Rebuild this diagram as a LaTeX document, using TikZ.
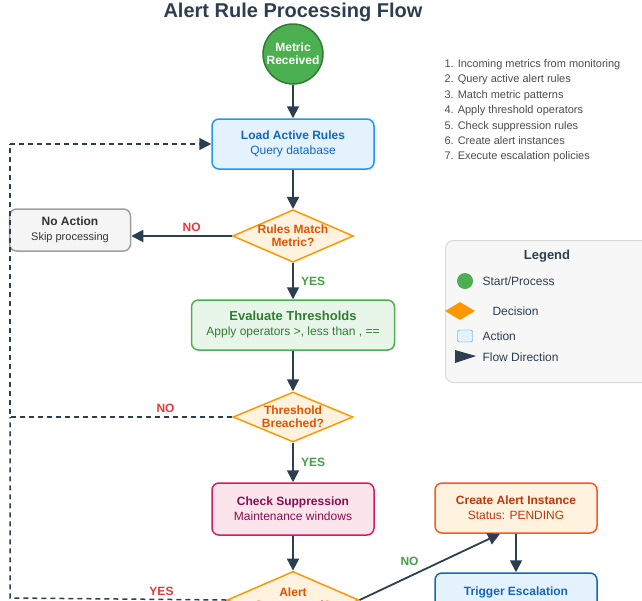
\documentclass[tikz,border=0pt]{standalone}
\usepackage{fontspec}
\setmainfont{Liberation Sans}
\usetikzlibrary{arrows.meta,shapes.geometric}
\definecolor{ink}{HTML}{2C3E50}
\definecolor{bluef}{HTML}{E3F2FD}\definecolor{blued}{HTML}{2196F3}\definecolor{bluet}{HTML}{1565C0}
\definecolor{orf}{HTML}{FFF3E0}\definecolor{ord}{HTML}{FF9800}\definecolor{ort}{HTML}{E65100}
\definecolor{grf}{HTML}{E8F5E9}\definecolor{grd}{HTML}{4CAF50}\definecolor{grt}{HTML}{2E7D32}
\definecolor{pkf}{HTML}{FCE4EC}\definecolor{pkd}{HTML}{D81B60}\definecolor{pkt}{HTML}{880E4F}
\definecolor{rdd}{HTML}{FF5722}\definecolor{rdt}{HTML}{BF360C}
\definecolor{gyf}{HTML}{F5F5F5}\definecolor{gyd}{HTML}{9E9E9E}
\definecolor{nored}{HTML}{E53935}\definecolor{yesgr}{HTML}{43A047}
\begin{document}
\begin{tikzpicture}[x=1pt,y=-1pt,
  box/.style={rounded corners=7pt,line width=1.5pt,minimum width=162pt,minimum height=50pt,align=center,font=\fontsize{12}{15}\selectfont},
  dec/.style={diamond,aspect=2.3,line width=1.5pt,draw=ord,fill=orf,text=ort,font=\bfseries\fontsize{12}{13}\selectfont,align=center,inner sep=0pt,minimum width=120pt,minimum height=50pt},
  flow/.style={draw=ink,line width=1.8pt,-{Triangle[length=12pt,width=12pt]}},
  back/.style={draw=ink,line width=1.5pt,dashed,dash pattern=on 5pt off 4pt},
  lab/.style={font=\bfseries\fontsize{12}{14}\selectfont}]
\useasboundingbox (0,0) rectangle (642,600);
\clip (0,0) rectangle (642,600);
\node[font=\bfseries\fontsize{20}{24}\selectfont,text=ink] (title) at (293,12) {Alert Rule Processing Flow};
\node[circle,fill=grd,draw=grt,line width=1.5pt,minimum size=60pt,inner sep=0pt,text=white,align=center,font=\bfseries\fontsize{12}{13}\selectfont] (start) at (293,54) {Metric\\Received};
\node[box,draw=blued,fill=bluef,text=bluet] (load) at (293,144) {\textbf{Load Active Rules}\\Query database};
\node[dec] (match) at (293,236) {Rules Match\\Metric?};
\node[box,draw=gyd,fill=gyf,text=black!80,minimum width=121pt,minimum height=42pt] (noact) at (70,230) {\textbf{No Action}\\\fontsize{11}{13}\selectfont Skip processing};
\node[box,draw=grd,fill=grf,text=grt,minimum width=203pt] (eval) at (293,325) {\textbf{\fontsize{13}{15}\selectfont Evaluate Thresholds}\\Apply operators >, less than , ==};
\node[dec] (breach) at (293,417) {Threshold\\Breached?};
\node[box,draw=pkd,fill=pkf,text=pkt,minimum height=52pt] (supp) at (293,509) {\textbf{Check Suppression}\\Maintenance windows};
\node[dec] (supq) at (293,600) {Alert\\Suppressed?};
\node[box,draw=rdd,fill=orf,text=rdt] (create) at (516,508) {\textbf{Create Alert Instance}\\Status: PENDING};
\node[box,draw=blued!70!black,fill=bluef,text=bluet,text depth=14pt] (trig) at (516,598) {\textbf{Trigger Escalation}};
\coordinate (cin) at ([xshift=-16pt]create.south);
\draw[flow] (start) -- (load);
\draw[flow] (load) -- (match);
\draw[flow] (match.west) -- node[lab,text=nored,above,pos=0.4]{NO} (match.west -| noact.east);
\draw[flow] (match) -- node[lab,text=yesgr,right,xshift=4pt]{YES} (eval);
\draw[flow] (eval) -- (breach);
\draw[flow] (breach) -- node[lab,text=yesgr,right,xshift=4pt]{YES} (supp);
\draw[flow] (supp) -- (supq);
\draw[flow] (supq.east) -- node[lab,text=yesgr,above left,pos=0.45]{NO} (cin);
\draw[flow] (create) -- (trig);
\coordinate (c1) at (10,417);
\coordinate (c2) at (10,144);
\coordinate (c3) at (10,598);
\draw[back] (breach.west) -- node[lab,text=nored,above,pos=0.3,solid]{NO} (c1) -- (c2);
\draw[back,-{Triangle[length=12pt,width=12pt]}] (c2) -- (load.west);
\draw[back] (supq.west) -- node[lab,text=nored,above,pos=0.3,solid]{YES} (c3) -- (c1);
\node[anchor=north west,align=left,text=black!70,font=\fontsize{11}{15.4}\selectfont] (steps) at (441,56) {1. Incoming metrics from monitoring\\2. Query active alert rules\\3. Match metric patterns\\4. Apply threshold operators\\5. Check suppression rules\\6. Create alert instances\\7. Execute escalation policies};
\node[draw=black!15,fill=black!3,rounded corners=8pt,line width=1pt,minimum width=210pt,minimum height=142pt,anchor=north west] (leg) at (445,240) {};
\node[font=\bfseries\fontsize{13}{15}\selectfont,text=ink] (legt) at (547,256) {Legend};
\node[circle,fill=grd,minimum size=16pt,inner sep=0pt] (l1) at (465,281) {};
\node[anchor=west,font=\fontsize{12}{14}\selectfont,text=ink] at (479,281) {Start/Process};
\node[diamond,fill=ord,minimum width=30pt,minimum height=18pt,aspect=1.8,inner sep=0pt] (l2) at (460,311) {};
\node[anchor=west,font=\fontsize{12}{14}\selectfont,text=ink] at (489,311) {Decision};
\node[draw=blued,fill=bluef,rounded corners=2pt,minimum width=15pt,minimum height=12pt,inner sep=0pt] (l3) at (465,336) {};
\node[anchor=west,font=\fontsize{12}{14}\selectfont,text=ink] at (479,336) {Action};
\fill[ink] (455,350) -- (476,356) -- (455,363) -- cycle;
\node[anchor=west,font=\fontsize{12}{14}\selectfont,text=ink] at (479,357) {Flow Direction};
\end{tikzpicture}
\end{document}
